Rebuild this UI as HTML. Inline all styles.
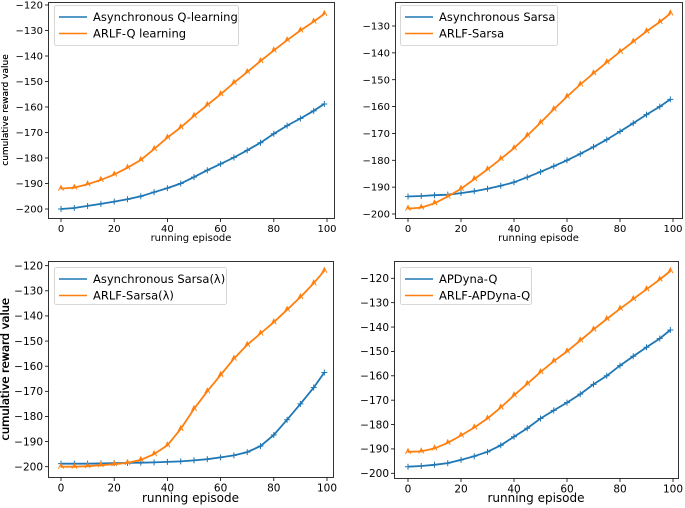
<!DOCTYPE html>
<html><head><meta charset="utf-8">
<style>
html,body{margin:0;padding:0;background:#fff;}
svg{display:block;font-family:"DejaVu Sans","Liberation Sans",sans-serif;}
</style></head>
<body>
<svg id="fig" width="685" height="508" viewBox="0 0 685 508" xmlns="http://www.w3.org/2000/svg"></svg>
<script>
const episodes = [0,5,10,15,20,25,30,35,40,45,50,55,60,65,70,75,80,85,90,95,99];
const xTicks = [0,20,40,60,80,100];
const qBlue = [-200,-199.6,-198.8,-198,-197.1,-196.2,-195,-193.4,-191.8,-190,-187.5,-184.8,-182.3,-179.8,-177,-174,-170.5,-167.3,-164.5,-161.5,-158.8];
const qOrange = [-192,-191.6,-190.3,-188.6,-186.5,-183.8,-180.8,-176.5,-172,-168,-163.5,-159.2,-155,-150.5,-146.3,-142,-137.8,-133.8,-130,-126.5,-123.5];
const sBlue = [-193.5,-193.3,-193,-192.8,-192.2,-191.5,-190.6,-189.5,-188.2,-186.3,-184.3,-182.2,-180,-177.6,-175,-172.3,-169.3,-166.2,-163,-160,-157.3];
const sOrange = [-198,-197.6,-196,-193.5,-190.6,-187,-183.4,-179.5,-175.5,-170.8,-166,-161,-156.3,-151.8,-147.6,-143.5,-139.6,-135.8,-132,-128.5,-125.3];
const lBlue = [-198.8,-198.8,-198.8,-198.7,-198.6,-198.5,-198.4,-198.3,-198.1,-197.9,-197.5,-197,-196.3,-195.5,-194.2,-191.8,-187.4,-181.3,-175,-168.5,-162.5];
const lOrange = [-200,-200,-199.8,-199.4,-199,-198.5,-197.3,-195,-191.5,-185,-177,-170,-163.5,-157,-151.5,-147,-142.5,-137.5,-132.5,-127,-122];
const dBlue = [-197.3,-197,-196.5,-195.8,-194.5,-193,-191.2,-188.5,-185,-181.5,-177.5,-174.2,-171,-167.5,-163.5,-160,-155.8,-152,-148.3,-144.7,-141.2];
const dOrange = [-191.2,-191,-189.8,-187.5,-184.5,-181.2,-177.5,-173,-168,-163.3,-158.5,-154,-150,-145.5,-141,-136.7,-132.5,-128.5,-124.5,-120.5,-117];
const yTicksA = [-200,-190,-180,-170,-160,-150,-140,-130,-120];
const yTicksB = [-200,-190,-180,-170,-160,-150,-140,-130];

const NS="http://www.w3.org/2000/svg";
const fig=document.getElementById('fig');
function mk(tag,attrs,parent){const e=document.createElementNS(NS,tag);for(const k in attrs)e.setAttribute(k,attrs[k]);(parent||fig).appendChild(e);return e;}

const panels=[
 {id:'q',frame:[48,2,334,218],x0:61,x1:327,yA:-200,pA:209,yB:-120,pB:5,yt:yTicksA,b:qBlue,o:qOrange,lb:'Asynchronous Q-learning',lo:'ARLF-Q learning',leg:[54,5,238,45],tf:10,yf:9,xf:10,xl:241},
 {id:'s',frame:[395,2,682,218],x0:408,x1:673,yA:-200,pA:214,yB:-130,pB:26,yt:yTicksB,b:sBlue,o:sOrange,lb:'Asynchronous Sarsa',lo:'ARLF-Sarsa',leg:[400,5,557,45],tf:10,yf:9,xf:10,xl:241},
 {id:'l',frame:[48,261,333,477],x0:61,x1:327,yA:-200,pA:466.7,yB:-120,pB:265.7,yt:yTicksA,b:lBlue,o:lOrange,lb:'Asynchronous Sarsa(\u03BB)',lo:'ARLF-Sarsa(\u03BB)',leg:[54,267,226,304],tf:10.5,yf:11.5,xf:12,xl:502},
 {id:'d',frame:[394,261,678,478],x0:408,x1:673,yA:-200,pA:473.3,yB:-120,pB:278.3,yt:yTicksA,b:dBlue,o:dOrange,lb:'APDyna-Q',lo:'ARLF-APDyna-Q',leg:[400,267,531,304],tf:10.5,yf:11.5,xf:12,xl:502}
];
const BLUE='#1f77b4',ORANGE='#ff7f0e';

panels.forEach(p=>{
 const g=mk('g',{});
 
 
 const xs=v=>p.x0+(p.x1-p.x0)*v/100;
 const ys=v=>p.pA+(v-p.yA)*(p.pB-p.pA)/(p.yB-p.yA);
 const [fx0,fy0,fx1,fy1]=p.frame;
 const fr=mk('rect',{x:fx0+0.5,y:fy0+0.5,width:fx1-fx0,height:fy1-fy0,fill:'none',stroke:'#000','stroke-width':0.8},g);
 
 
 xTicks.forEach(t=>{
  const x=xs(t);
  mk('line',{x1:x,x2:x,y1:fy1+0.5,y2:fy1+4,stroke:'#000','stroke-width':0.8},g);
  const tx=mk('text',{x:x,y:fy1+4+p.tf,'font-size':p.tf,'text-anchor':'middle',fill:'#000'},g);
  tx.textContent=t;
  
  
 });
 p.yt.forEach(t=>{
  const y=ys(t);
  mk('line',{x1:fx0+0.5,x2:fx0-3,y1:y,y2:y,stroke:'#000','stroke-width':0.8},g);
  const tx=mk('text',{x:fx0-5,y:y+p.tf*0.36,'font-size':p.tf,'text-anchor':'end',fill:'#000'},g);
  tx.textContent='\u2212'+Math.abs(t);
  
  
 });
 const xl=mk('text',{x:(fx0+fx1)/2,y:p.xl,'font-size':p.xf,'text-anchor':'middle',fill:'#000'},g);
 xl.textContent='running episode';
 
 
 const ycx=p.yf<10?8:9, ycy=(fy0+fy1)/2;
 const yl=mk('text',{x:ycx,y:ycy,'font-size':p.yf,'text-anchor':'middle',fill:'#000',transform:'rotate(-90 '+ycx+' '+ycy+')'},g);
 yl.textContent='cumulative reward value';
 
 
 [[p.b,BLUE,'blue'],[p.o,ORANGE,'orange']].forEach(([vals,col,nm])=>{
  const pts=episodes.map((e,i)=>xs(e).toFixed(1)+','+ys(vals[i]).toFixed(1)).join(' ');
  const pl=mk('polyline',{points:pts,fill:'none',stroke:col,'stroke-width':1.8},g);
  
  
  episodes.forEach((e,i)=>{
   const x=xs(e),y=ys(vals[i]);
   const m=mk('path',{d:nm==='blue'?`M${x-3},${y}h6M${x},${y-3}v6`:`M${x-2.5},${y+2}L${x},${y-3}L${x+2.5},${y+2}M${x},${y-3}v4`,stroke:col,'stroke-width':1,fill:'none'},g);
   
   
  });
 });
 const [lx0,ly0,lx1,ly1]=p.leg;
 const lg=mk('g',{},g);
 
 
 mk('rect',{x:lx0+0.5,y:ly0+0.5,width:lx1-lx0,height:ly1-ly0,rx:2,fill:'#fff','fill-opacity':0.85,stroke:'#ccc','stroke-width':0.8},lg);
 [[p.lb,BLUE],[p.lo,ORANGE]].forEach(([lab,col],i)=>{
  const yy=ly0+12+i*16.5;
  const le=mk('g',{},lg);
  
  
  mk('line',{x1:lx0+5,x2:lx0+33,y1:yy,y2:yy,stroke:col,'stroke-width':1.5},le);
  const t=mk('text',{x:lx0+39,y:yy+4,'font-size':11.5,fill:'#000'},le);
  t.textContent=lab;
 });
});
</script>
</body></html>
